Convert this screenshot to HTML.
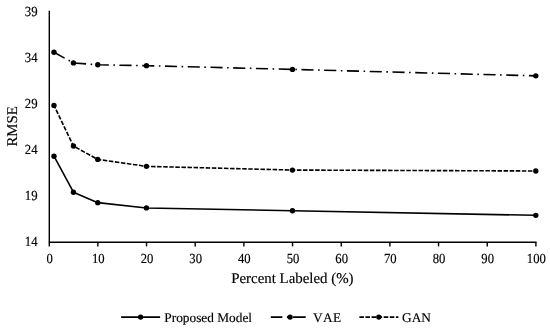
<!DOCTYPE html>
<html><head><meta charset="utf-8"><title>RMSE vs Percent Labeled</title>
<style>
html,body{margin:0;padding:0;background:#fff;}
svg{display:block;font-family:"Liberation Serif",serif;font-kerning:none;text-rendering:geometricPrecision;}
</style></head><body>
<svg width="550" height="331" viewBox="0 0 550 331">
<rect width="550" height="331" fill="#fff"/>
<g stroke="#000" stroke-width="1.4" fill="none">
<line x1="49.3" y1="10.8" x2="49.3" y2="246.4"/>
<line x1="48.8" y1="242.3" x2="536.55" y2="242.3"/>
<line x1="97.87" y1="242.3" x2="97.87" y2="246.4"/><line x1="146.54" y1="242.3" x2="146.54" y2="246.4"/><line x1="195.21" y1="242.3" x2="195.21" y2="246.4"/><line x1="243.88" y1="242.3" x2="243.88" y2="246.4"/><line x1="292.55" y1="242.3" x2="292.55" y2="246.4"/><line x1="341.22" y1="242.3" x2="341.22" y2="246.4"/><line x1="389.89" y1="242.3" x2="389.89" y2="246.4"/><line x1="438.56" y1="242.3" x2="438.56" y2="246.4"/><line x1="487.23" y1="242.3" x2="487.23" y2="246.4"/><line x1="535.90" y1="242.3" x2="535.90" y2="246.4"/>
</g>
<g font-size="13.33" fill="#000" stroke="#000" stroke-width="0.15"><text transform="translate(49.65,262.7) scale(0.95,1.04)" text-anchor="middle">0</text><text transform="translate(98.32,262.7) scale(0.95,1.04)" text-anchor="middle">10</text><text transform="translate(146.99,262.7) scale(0.95,1.04)" text-anchor="middle">20</text><text transform="translate(195.66,262.7) scale(0.95,1.04)" text-anchor="middle">30</text><text transform="translate(244.33,262.7) scale(0.95,1.04)" text-anchor="middle">40</text><text transform="translate(293.00,262.7) scale(0.95,1.04)" text-anchor="middle">50</text><text transform="translate(341.67,262.7) scale(0.95,1.04)" text-anchor="middle">60</text><text transform="translate(390.34,262.7) scale(0.95,1.04)" text-anchor="middle">70</text><text transform="translate(439.01,262.7) scale(0.95,1.04)" text-anchor="middle">80</text><text transform="translate(487.68,262.7) scale(0.95,1.04)" text-anchor="middle">90</text><text transform="translate(536.35,262.7) scale(0.95,1.04)" text-anchor="middle">100</text><text transform="translate(37.6,246.40) scale(0.96,1.04)" text-anchor="end">14</text><text transform="translate(37.6,200.22) scale(0.96,1.04)" text-anchor="end">19</text><text transform="translate(37.6,154.04) scale(0.96,1.04)" text-anchor="end">24</text><text transform="translate(37.6,107.86) scale(0.96,1.04)" text-anchor="end">29</text><text transform="translate(37.6,61.68) scale(0.96,1.04)" text-anchor="end">34</text><text transform="translate(37.6,15.50) scale(0.96,1.04)" text-anchor="end">39</text></g>
<g fill="none" stroke="#000" stroke-width="1.6" stroke-linejoin="round">
<polyline points="53.97,52.30 73.44,62.92 97.77,64.77 146.44,65.69 292.45,69.39 535.80,75.85" stroke-dasharray="12.1 4.55 1.55 4.557"/>
<polyline points="53.97,105.41 73.44,146.05 97.77,159.44 146.44,166.36 292.45,170.06 535.80,170.98" stroke-dasharray="4.5 1.58" stroke-dashoffset="1.1"/>
<polyline points="53.97,156.21 73.44,192.23 97.77,202.66 146.44,207.93 292.45,210.70 535.80,215.32"/>
</g>
<g fill="#000"><circle cx="53.97" cy="52.30" r="2.68"/><circle cx="73.44" cy="62.92" r="2.68"/><circle cx="97.77" cy="64.77" r="2.68"/><circle cx="146.44" cy="65.69" r="2.68"/><circle cx="292.45" cy="69.39" r="2.68"/><circle cx="535.80" cy="75.85" r="2.68"/><circle cx="53.97" cy="105.41" r="2.68"/><circle cx="73.44" cy="146.05" r="2.68"/><circle cx="97.77" cy="159.44" r="2.68"/><circle cx="146.44" cy="166.36" r="2.68"/><circle cx="292.45" cy="170.06" r="2.68"/><circle cx="535.80" cy="170.98" r="2.68"/><circle cx="53.97" cy="156.21" r="2.68"/><circle cx="73.44" cy="192.23" r="2.68"/><circle cx="97.77" cy="202.66" r="2.68"/><circle cx="146.44" cy="207.93" r="2.68"/><circle cx="292.45" cy="210.70" r="2.68"/><circle cx="535.80" cy="215.32" r="2.68"/></g>
<g fill="#000" stroke="#000" stroke-width="0.15">
<text font-size="14.9" text-anchor="middle" transform="translate(17.2,126.3) rotate(-90)">RMSE</text>
<text font-size="14.9" x="292.4" y="283.4" text-anchor="middle">Percent Labeled (%)</text>
</g>
<g fill="none" stroke="#000" stroke-width="1.6">
<line x1="121.1" y1="317.1" x2="160.1" y2="317.1"/>
<line x1="270.8" y1="317.1" x2="309.8" y2="317.1" stroke-dasharray="11.6 4.5 1.5 4.5 12.8 5"/>
<line x1="359.4" y1="317.1" x2="398.4" y2="317.1" stroke-dasharray="4.5 1.58"/>
</g>
<g fill="#000"><circle cx="140.6" cy="317.1" r="2.68"/><circle cx="290.1" cy="317.1" r="2.68"/><circle cx="378.8" cy="317.1" r="2.68"/></g>
<g font-size="13.33" fill="#000" stroke="#000" stroke-width="0.15">
<text transform="translate(164.3,321.6)">Proposed Model</text>
<text transform="translate(313.1,321.6)" letter-spacing="0.3">VAE</text>
<text transform="translate(402.0,321.6)">GAN</text>
</g>
</svg>
</body></html>
